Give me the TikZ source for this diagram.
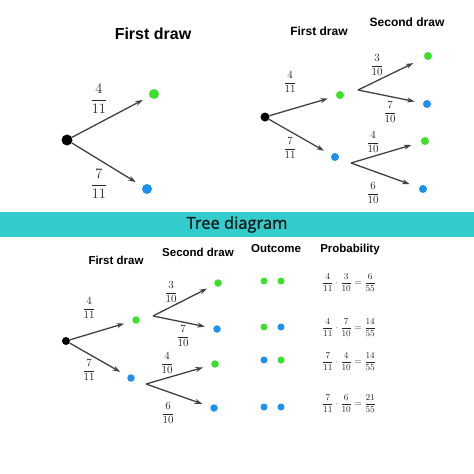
\documentclass[tikz,border=0pt]{standalone}
\usepackage{amsmath}
\usepackage{fontspec}
\setsansfont{Liberation Sans}
\newfontfamily\bannerfont{Open Sans}[FakeBold=1.4]
\usetikzlibrary{arrows.meta}

\definecolor{drawgreen}{HTML}{3CE02A}
\definecolor{drawblue}{HTML}{1E90F0}
\definecolor{bannerteal}{HTML}{33CCCC}
\definecolor{arrowgray}{HTML}{404040}

\tikzset{
    ball/.style={circle, fill=#1, inner sep=0pt, minimum size=8pt},
    branch/.style={draw=arrowgray, line width=1.3pt, -{Stealth[length=7.5pt,width=5pt]}, shorten >=8.5pt},
    heading/.style={font=\sffamily\bfseries\fontsize{#1}{#1}\selectfont},
    frac/.style={text=black!85, font=\fontsize{#1}{#1}\selectfont},
}

\begin{document}
\begin{tikzpicture}[x=1pt, y=-1pt]
    \useasboundingbox (0,0) rectangle (474,474);

    % one draw
    \node[heading=16] (tA) at (153,34) {First draw};
    \node[ball=black, minimum size=11pt] (A0) at (67,140) {};
    \node[ball=drawgreen, minimum size=10pt] (A1) at (154,94) {};
    \node[ball=drawblue, minimum size=10pt] (A2) at (147,189) {};

    \draw[branch, shorten >=7.5pt] (A0) -- (A1);
    \draw[branch, shorten >=8pt] (A0) -- (A2);
    \node[frac=15] (pA1) at (99,99) {$\dfrac{4}{11}$};
    \node[frac=15] (pA2) at (99,184) {$\dfrac{7}{11}$};

    % two draws
    \node[heading=12] (tB1) at (319,31) {First draw};
    \node[heading=12] (tB2) at (407,22) {Second draw};
    \node[ball=black, minimum size=9pt] (B0) at (265,117) {};
    \node[ball=drawgreen] (B1) at (340,95) {};
    \node[ball=drawblue] (B2) at (335,157) {};
    \coordinate (Bf1) at (358,90);
    \coordinate (Bf2) at (351,163);
    \node[ball=drawgreen] (B11) at (428,56) {};
    \node[ball=drawblue] (B12) at (427,104) {};
    \node[ball=drawgreen] (B21) at (425,141) {};
    \node[ball=drawblue] (B22) at (423,189) {};

    \draw[branch] (B0) -- (B1);
    \draw[branch] (B0) -- (B2);
    \draw[branch, shorten >=12pt] (Bf1) -- (B11);
    \draw[branch] (Bf1) -- (B12);
    \draw[branch, shorten >=10pt] (Bf2) -- (B21);
    \draw[branch, shorten >=10pt] (Bf2) -- (B22);

    \node[frac=11] (pB1) at (290,82) {$\dfrac{4}{11}$};
    \node[frac=11] (pB2) at (290,148) {$\dfrac{7}{11}$};
    \node[frac=11] (pB11) at (377,65) {$\dfrac{3}{10}$};
    \node[frac=11] (pB12) at (390,112) {$\dfrac{7}{10}$};
    \node[frac=11] (pB21) at (373,142) {$\dfrac{4}{10}$};
    \node[frac=11] (pB22) at (373,193) {$\dfrac{6}{10}$};

    % banner
    \fill[bannerteal] (0,212) rectangle (474,237);
    \node[font=\bannerfont\fontsize{16.5}{16.5}\selectfont, text=black!90] (banner) at (237,224.5) {Tree diagram};

    % tree with outcomes
    \node[heading=11.5] (tC1) at (116,260) {First draw};
    \node[heading=11.5] (tC2) at (198,252) {Second draw};
    \node[heading=11.5] (tC3) at (276,249) {Outcome};
    \node[heading=11.5] (tC4) at (350,250) {Probability};

    \node[ball=black] (C0) at (66,341) {};
    \node[ball=drawgreen, minimum size=7.5pt] (C1) at (136,320) {};
    \node[ball=drawblue, minimum size=7.5pt] (C2) at (131,378) {};
    \coordinate (Cf1) at (153,316);
    \coordinate (Cf2) at (146,384);
    \node[ball=drawgreen, minimum size=7.5pt] (C11) at (218,283) {};
    \node[ball=drawblue, minimum size=7.5pt] (C12) at (217,329) {};
    \node[ball=drawgreen, minimum size=7.5pt] (C21) at (215,364) {};
    \node[ball=drawblue, minimum size=7.5pt] (C22) at (214,408) {};

    \draw[branch] (C0) -- (C1);
    \draw[branch] (C0) -- (C2);
    \draw[branch] (Cf1) -- (C11);
    \draw[branch] (Cf1) -- (C12);
    \draw[branch] (Cf2) -- (C21);
    \draw[branch] (Cf2) -- (C22);

    \node[frac=11] (pC1) at (89,308) {$\dfrac{4}{11}$};
    \node[frac=11] (pC2) at (89,370) {$\dfrac{7}{11}$};
    \node[frac=11] (pC11) at (171,292) {$\dfrac{3}{10}$};
    \node[frac=11] (pC12) at (183,336) {$\dfrac{7}{10}$};
    \node[frac=11] (pC21) at (167,363) {$\dfrac{4}{10}$};
    \node[frac=11] (pC22) at (168,413) {$\dfrac{6}{10}$};

    % outcomes and probabilities
    \node[ball=drawgreen, minimum size=7pt] (o1a) at (264,281) {};
    \node[ball=drawgreen, minimum size=7pt] (o1b) at (281,281) {};
    \node[ball=drawgreen, minimum size=7pt] (o2a) at (264,327) {};
    \node[ball=drawblue, minimum size=7pt] (o2b) at (281,327) {};
    \node[ball=drawblue, minimum size=7pt] (o3a) at (264,360) {};
    \node[ball=drawgreen, minimum size=7pt] (o3b) at (281,360) {};
    \node[ball=drawblue, minimum size=7pt] (o4a) at (264,407) {};
    \node[ball=drawblue, minimum size=7pt] (o4b) at (281,407) {};

    \node[frac=9.5] (q1) at (349,283) {$\dfrac{4}{11}\cdot\dfrac{3}{10}=\dfrac{6}{55}$};
    \node[frac=9.5] (q2) at (349,328) {$\dfrac{4}{11}\cdot\dfrac{7}{10}=\dfrac{14}{55}$};
    \node[frac=9.5] (q3) at (349,362) {$\dfrac{7}{11}\cdot\dfrac{4}{10}=\dfrac{14}{55}$};
    \node[frac=9.5] (q4) at (349,404) {$\dfrac{7}{11}\cdot\dfrac{6}{10}=\dfrac{21}{55}$};
\end{tikzpicture}
\end{document}
